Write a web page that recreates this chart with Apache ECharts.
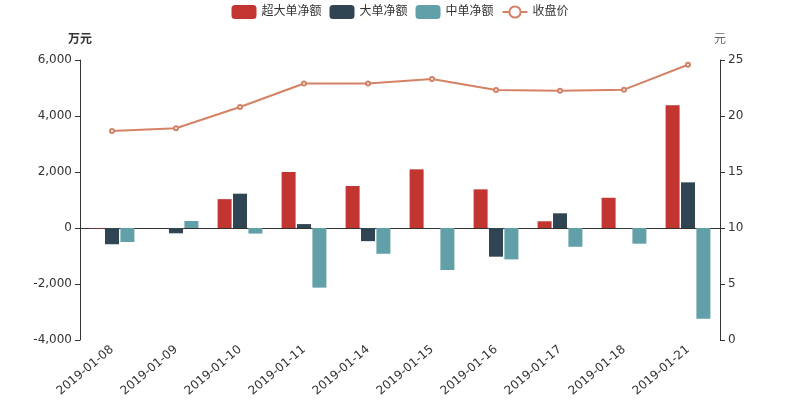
<!DOCTYPE html>
<html>
<head>
    <meta charset="utf-8"/>
    <title>资金流向</title>
    <script src="https://cdn.jsdelivr.net/npm/echarts@6/dist/echarts.min.js"></script>
</head>
<body style="margin:0">
<div id="main" style="width: 800px;height:400px;"></div>
<script type="text/javascript">
    var dates = ['2019-01-08', '2019-01-09', '2019-01-10', '2019-01-11', '2019-01-14',
                 '2019-01-15', '2019-01-16', '2019-01-17', '2019-01-18', '2019-01-21'];
    var superLarge = [-20, 0, 1030, 2000, 1500, 2095, 1380, 240, 1080, 4380];
    var large = [-580, -190, 1225, 140, -470, -10, -1025, 525, -15, 1630];
    var medium = [-500, 250, -200, -2130, -920, -1500, -1120, -670, -560, -3240];
    var closePrice = [18.66, 18.9, 20.8, 22.9, 22.9, 23.3, 22.32, 22.26, 22.35, 24.58];

    var myChart = echarts.init(document.getElementById('main'));

    var option = {
        color: ['#c23531', '#2f4554', '#61a0a8', '#d48265'],
        textStyle: { fontFamily: 'DejaVu Sans, Noto Sans CJK SC, sans-serif' },
        animation: false,
        legend: {
            top: 0,
            left: 'center',
            itemWidth: 25,
            itemHeight: 14,
            textStyle: { color: '#333', fontSize: 12 },
            data: ['超大单净额', '大单净额', '中单净额', '收盘价']
        },
        grid: { left: 80, right: 80, top: 60, bottom: 60 },
        xAxis: {
            type: 'category',
            data: dates,
            axisLine: { lineStyle: { color: '#333' } },
            axisTick: { lineStyle: { color: '#333' } },
            axisLabel: { rotate: 40, color: '#333', fontSize: 12, interval: 0 }
        },
        yAxis: [
            {
                type: 'value',
                name: '万元',
                nameGap: 14,
                nameTextStyle: { color: '#333', fontWeight: 'bold', fontSize: 12 },
                min: -4000,
                max: 6000,
                interval: 2000,
                splitLine: { show: false },
                axisLine: { show: true, lineStyle: { color: '#333' } },
                axisTick: { show: true, lineStyle: { color: '#333' } },
                axisLabel: { color: '#333', fontSize: 12 }
            },
            {
                type: 'value',
                name: '元',
                nameGap: 14,
                nameTextStyle: { color: '#666', fontSize: 12 },
                min: 0,
                max: 25,
                interval: 5,
                splitLine: { show: false },
                axisLine: { show: true, lineStyle: { color: '#333' } },
                axisTick: { show: true, lineStyle: { color: '#333' } },
                axisLabel: { color: '#333', fontSize: 12 }
            }
        ],
        series: [
            {
                name: '超大单净额',
                type: 'bar',
                barGap: '10%',
                barCategoryGap: '30%',
                data: superLarge
            },
            {
                name: '大单净额',
                type: 'bar',
                barGap: '10%',
                barCategoryGap: '30%',
                data: large
            },
            {
                name: '中单净额',
                type: 'bar',
                barGap: '10%',
                barCategoryGap: '30%',
                data: medium
            },
            {
                name: '收盘价',
                type: 'line',
                yAxisIndex: 1,
                symbol: 'emptyCircle',
                symbolSize: 4,
                lineStyle: { width: 2 },
                data: closePrice
            }
        ]
    };

    myChart.setOption(option);
</script>
</body>
</html>
